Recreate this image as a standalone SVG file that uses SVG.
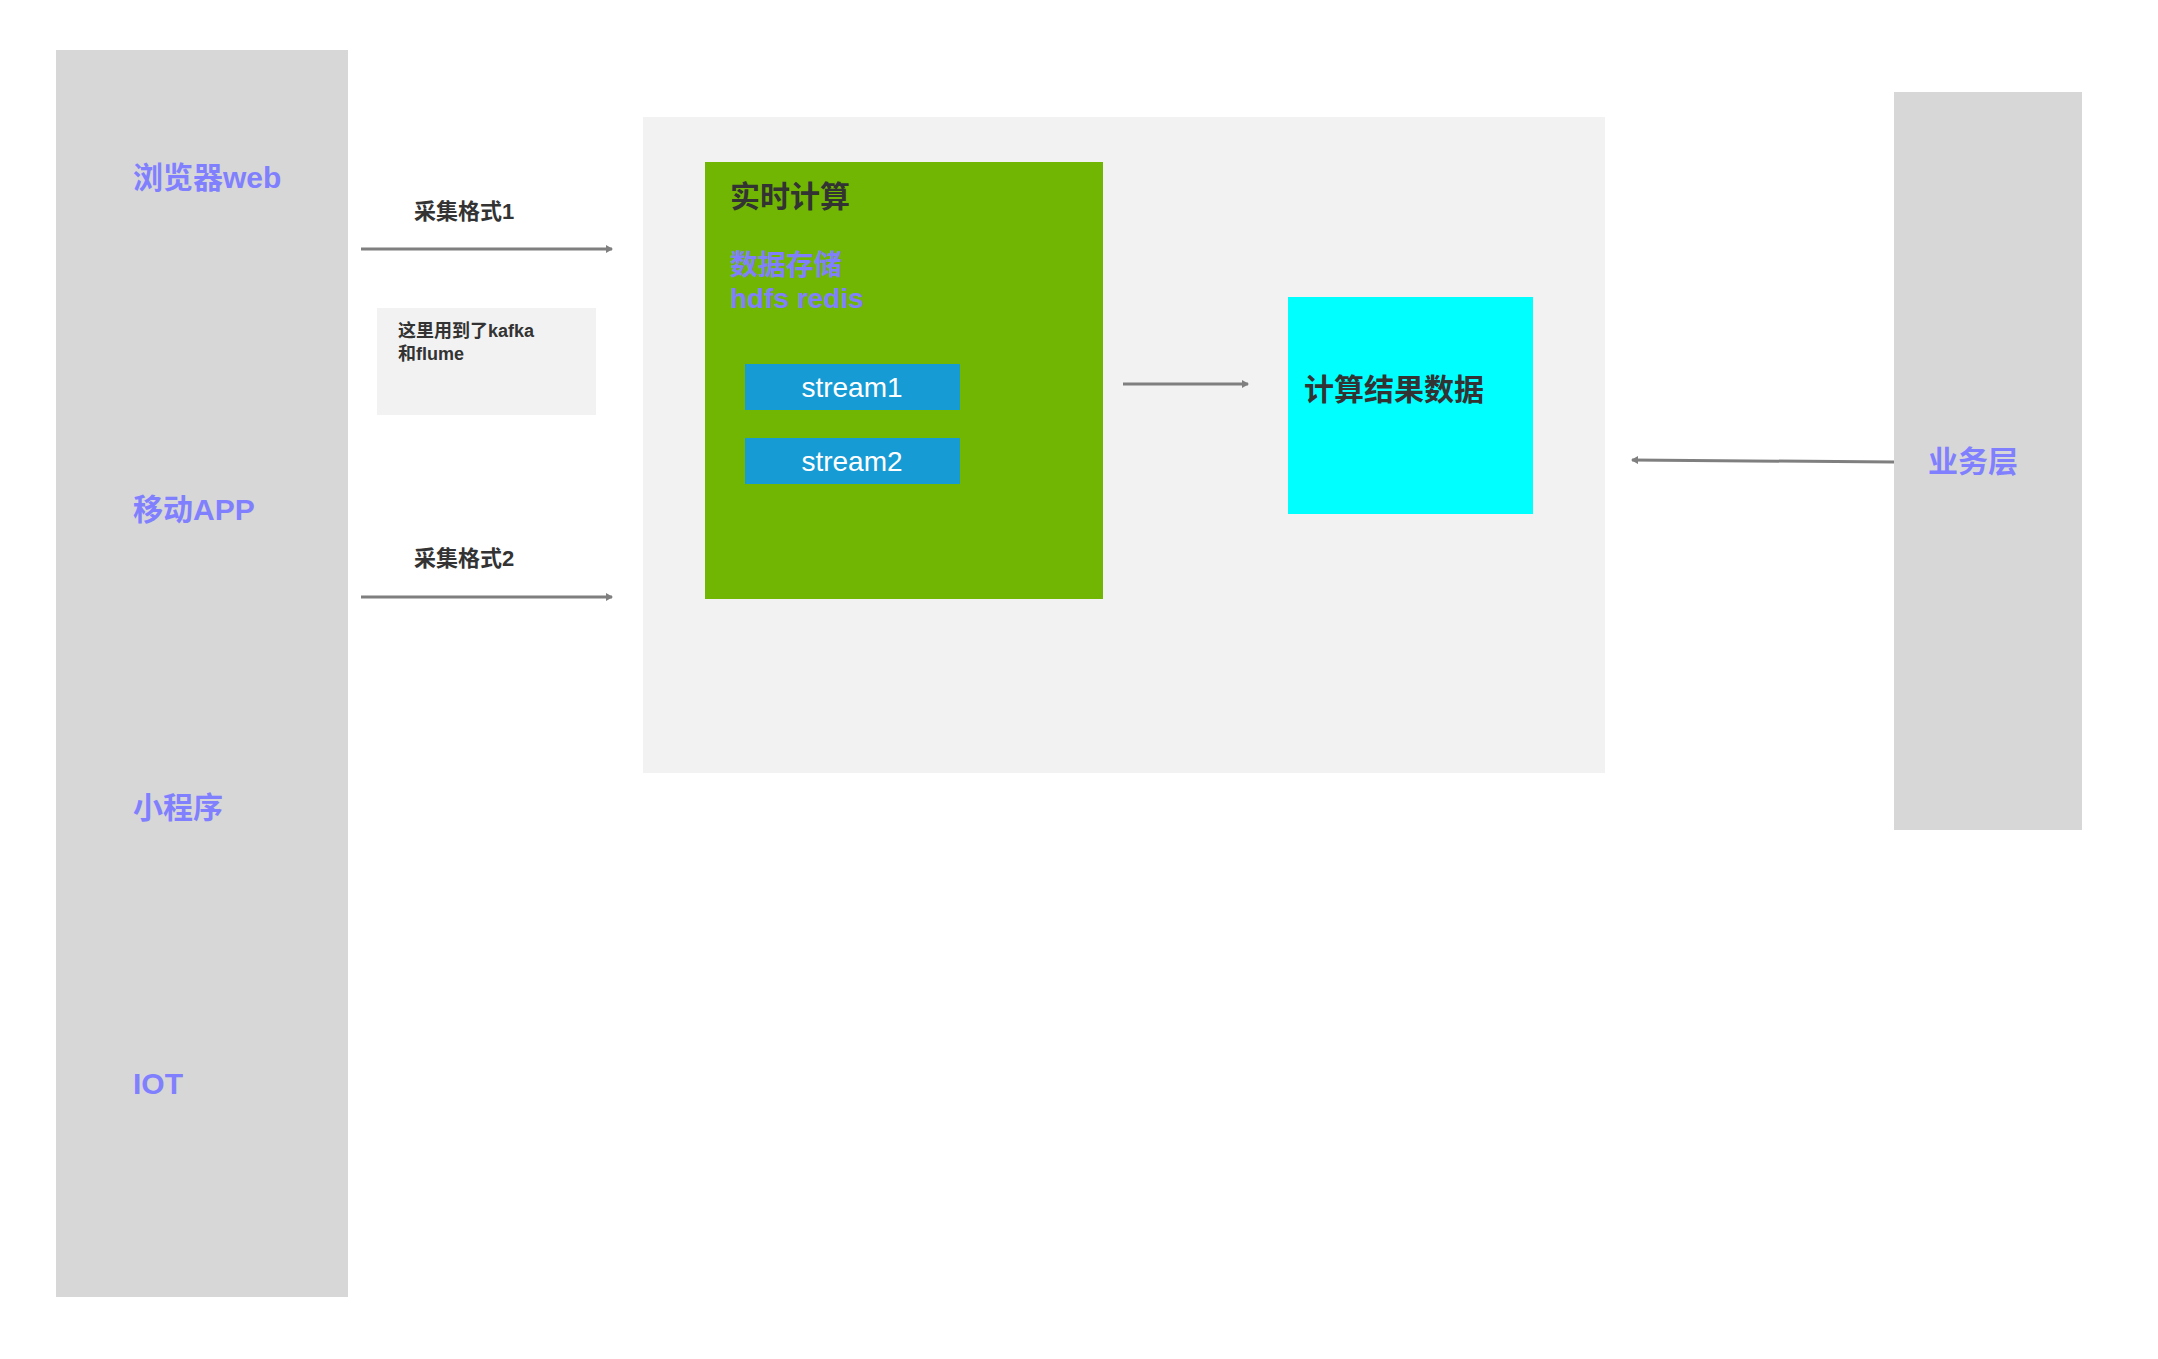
<svg xmlns="http://www.w3.org/2000/svg" width="2158" height="1359" viewBox="0 0 2158 1359">
<style>
text{font-family:"Liberation Sans","Noto Sans CJK SC",sans-serif;font-weight:bold}
.p{fill:#8080ff;font-size:30px}
.d{fill:#333;font-size:22px}
.s{fill:#fff;font-size:28px;font-weight:normal;text-anchor:middle}
.c{stroke:#7f7f7f;stroke-width:3;fill:none;marker-end:url(#a)}
</style>
<defs><marker id="a" markerWidth="8" markerHeight="8" refX="6" refY="4" orient="auto" markerUnits="userSpaceOnUse"><path d="M0,0L7,4L0,8Z" fill="#7f7f7f"/></marker></defs>
<rect width="2158" height="1359" fill="#fff"/>
<g id="sources"><rect x="56" y="50" width="292" height="1247" fill="#d7d7d7"/>
<text class="p" x="133" y="188">浏览器web</text>
<text class="p" x="133" y="520">移动APP</text>
<text class="p" x="133" y="818">小程序</text>
<text class="p" x="133" y="1094">IOT</text></g>
<g id="note"><rect x="377" y="308" width="219" height="107" fill="#f2f2f2"/>
<text class="d" style="font-size:18px" x="398" y="337">这里用到了kafka</text>
<text class="d" style="font-size:18px" x="398" y="360">和flume</text></g>
<g id="platform"><rect x="643" y="117" width="962" height="656" fill="#f2f2f2"/></g>
<g id="realtime"><rect x="705" y="162" width="398" height="437" fill="#70b603"/>
<text class="d" style="font-size:30px" x="730" y="207">实时计算</text>
<text class="p" style="font-size:28px" x="730" y="275">数据存储</text>
<text class="p" style="font-size:28px" x="730" y="308">hdfs redis</text></g>
<g id="stream1"><rect x="745" y="364" width="215" height="46" fill="#169bd5"/><text class="s" x="852" y="397">stream1</text></g>
<g id="stream2"><rect x="745" y="438" width="215" height="46" fill="#169bd5"/><text class="s" x="852" y="471">stream2</text></g>
<g id="result"><rect x="1288" y="297" width="245" height="217" fill="#00ffff"/>
<text class="d" style="font-size:30px" x="1304" y="400">计算结果数据</text></g>
<g id="business"><rect x="1894" y="92" width="188" height="738" fill="#d7d7d7"/>
<text class="p" x="1928" y="472">业务层</text></g>
<g id="connectors">
<path class="c" d="M361,249H612"/>
<text class="d" x="414" y="219">采集格式1</text>
<path class="c" d="M361,597H612"/>
<text class="d" x="414" y="566">采集格式2</text>
<path class="c" d="M1123,384H1248"/>
<path class="c" d="M1894,462L1632,460"/>
</g>
</svg>
